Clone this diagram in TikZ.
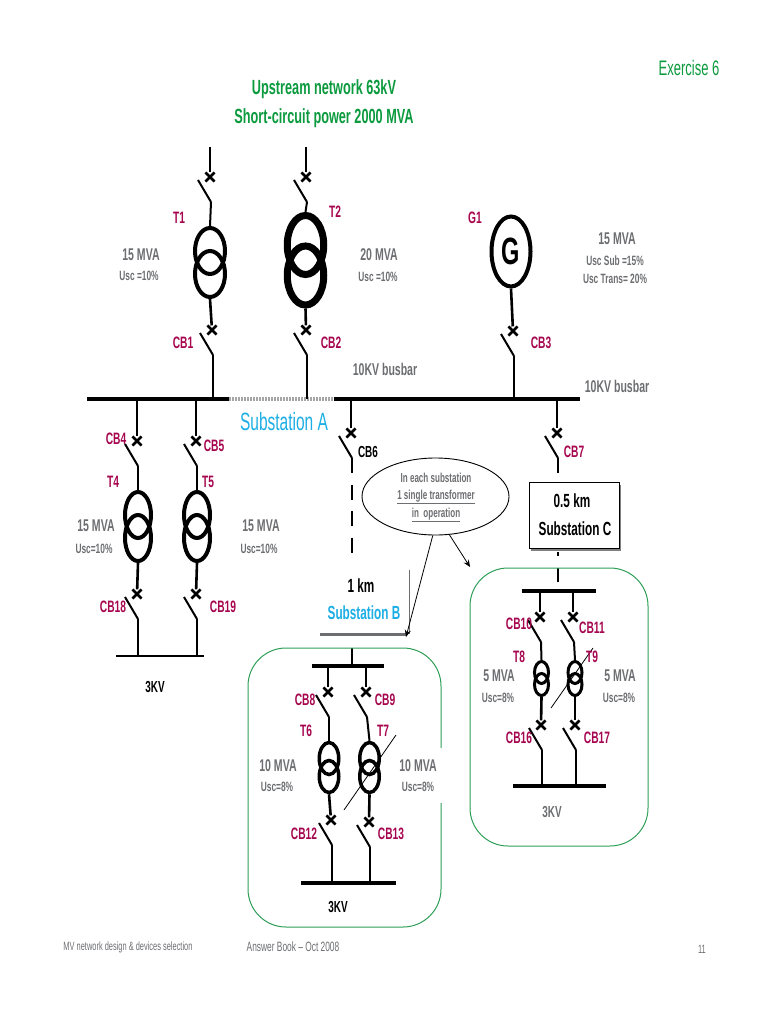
\documentclass[tikz,border=0pt]{standalone}
\usepackage{fontspec}
\usepackage{xcolor}
\usetikzlibrary{shapes.geometric,shapes.misc,shadows,arrows.meta}
\newfontfamily\nrw[FakeStretch=0.62]{Liberation Sans}
\definecolor{cbred}{HTML}{A6064F}
\definecolor{lblgray}{HTML}{6D6E71}
\definecolor{netgreen}{HTML}{0B9A3E}
\definecolor{framegreen}{HTML}{2E9E57}
\definecolor{subcyan}{HTML}{1CAEE4}
\tikzset{
	wire/.style={line width=2pt},
	wirethick/.style={line width=2.6pt},
	bar/.style={line width=3.6pt},
	cbx/.style={cross out,draw,minimum size=6.5pt,inner sep=0pt,line width=2.6pt},
	trafo/.style={ellipse,draw,inner sep=0pt},
	cblab/.style={text=cbred,font=\nrw\bfseries\fontsize{16.5}{18}\selectfont},
	mva/.style={text=lblgray,font=\nrw\bfseries\fontsize{17}{19}\selectfont},
	usc/.style={text=lblgray,font=\nrw\bfseries\fontsize{13.5}{15}\selectfont},
	blk/.style={font=\nrw\bfseries\fontsize{19}{21}\selectfont},
	kv/.style={font=\nrw\bfseries\fontsize{16}{18}\selectfont},
	foot/.style={text=lblgray,font=\nrw\fontsize{12}{14}\selectfont},
	greenbox/.style={draw=framegreen,line width=1pt},
	notearrow/.style={-{Stealth[length=7pt,width=6pt]},line width=0.8pt}
}
\begin{document}
\begin{tikzpicture}[x=1pt,y=-1pt]
	\useasboundingbox (0,0) rectangle (768,1024);
	
	% Headings
	\node[text=netgreen,font=\nrw\fontsize{21}{23}\selectfont] (exo) at (689,68) {Exercise 6};
	\node[text=netgreen,font=\nrw\bfseries\fontsize{20.5}{22}\selectfont] (title1) at (324,89.5) {Upstream network 63kV};
	\node[text=netgreen,font=\nrw\bfseries\fontsize{20.5}{22}\selectfont] (title2) at (324,118) {Short-circuit power 2000 MVA};
	
	% Draw breakers
	\foreach \n/\x/\y in {T1/210/177,T2/306/177,1/212/330,2/306/330,3/513/331,4/137/441,5/196/441,6/351/433,7/557/433,18/137/594,19/196/594,8/328/692,9/366/692,12/331/820,13/369/822,10/540/617,11/573/617,16/541/725,17/575/725}{
		\node[cbx] (CB\n) at (\x,\y) {};
		\coordinate (CB\n-s) at (\x-12,\y+3);
		\coordinate (CB\n-e) at (\x+1,\y+25);
		\draw[wire] (CB\n-s) -- (CB\n-e);
	}
	
	% Draw transformers
	\node[trafo,line width=4pt,minimum width=30pt,minimum height=46pt] (T1a) at (210,251) {};
	\node[trafo,line width=4pt,minimum width=30pt,minimum height=46pt] (T1b) at (210,274) {};
	\node[trafo,line width=7pt,minimum width=36.5pt,minimum height=59pt] (T2a) at (305.5,245) {};
	\node[trafo,line width=7pt,minimum width=36.5pt,minimum height=59pt] (T2b) at (305.5,275.5) {};
	\foreach \n/\x in {4/138,5/197}{
		\node[trafo,line width=4pt,minimum width=26pt,minimum height=46pt] (T\n a) at (\x,515) {};
		\node[trafo,line width=4pt,minimum width=26pt,minimum height=46pt] (T\n b) at (\x,538) {};
	}
	\foreach \n/\x in {6/329,7/369.5}{
		\node[trafo,line width=3.5pt,minimum width=19.5pt,minimum height=32pt] (T\n a) at (\x,758.5) {};
		\node[trafo,line width=3.5pt,minimum width=19.5pt,minimum height=32pt] (T\n b) at (\x,776.5) {};
	}
	\foreach \n/\x in {8/541.5,9/575}{
		\node[trafo,line width=3pt,minimum width=14pt,minimum height=22pt] (T\n a) at (\x,672.5) {};
		\node[trafo,line width=3pt,minimum width=14pt,minimum height=22pt] (T\n b) at (\x,684.5) {};
	}
	\node[trafo,line width=4pt,minimum width=39pt,minimum height=70pt,font=\nrw\bfseries\fontsize{38}{40}\selectfont] (G1) at (511,251.5) {G};
	
	% Draw busbars
	\coordinate (busAl) at (87,399);
	\coordinate (busAg) at (229,399);
	\coordinate (busAh) at (334,399);
	\coordinate (busAr) at (580,399);
	\draw[bar] (busAl) -- (busAg);
	\draw[bar,gray!70,dash pattern=on 2pt off 1pt] (busAg) -- (busAh);
	\draw[bar] (busAh) -- (busAr);
	\coordinate (bar3l) at (116,656);
	\coordinate (bar3r) at (204,656);
	\draw[line width=2.6pt] (bar3l) -- (bar3r);
	\coordinate (barBl) at (312,666);
	\coordinate (barBr) at (384,666);
	\draw[bar] (barBl) -- (barBr);
	\coordinate (bar3Bl) at (301,883);
	\coordinate (bar3Br) at (396,883);
	\draw[bar] (bar3Bl) -- (bar3Br);
	\coordinate (barCl) at (522,591);
	\coordinate (barCr) at (596,591);
	\draw[bar] (barCl) -- (barCr);
	\coordinate (bar3Cl) at (513,786);
	\coordinate (bar3Cr) at (606,786);
	\draw[bar] (bar3Cl) -- (bar3Cr);
	
	% Draw wires, upper network
	\coordinate (feedT1) at (210,147);
	\coordinate (feedT2) at (306,147);
	\draw[wirethick] (feedT1) -- (CBT1);
	\draw[wirethick] (feedT2) -- (CBT2);
	\draw[wire] (CBT1-e) -- (T1a.north);
	\draw[wire] (CBT2-e) -- (T2a.north);
	\draw[wirethick] (T1b.south) -- (CB1);
	\draw[wirethick] (T2b.south) -- (CB2);
	\draw[wirethick] (G1.south) -- (CB3);
	\draw[wire] (CB1-e) -- (CB1-e |- busAl);
	\draw[wire] (CB2-e) -- (CB2-e |- busAl);
	\draw[wire] (CB3-e) -- (CB3-e |- busAl);
	
	% Draw wires, 3KV feeders of substation A
	\foreach \n/\m/\t in {4/18/T4,5/19/T5}{
		\draw[wirethick] (CB\n |- busAl) -- (CB\n);
		\draw[wire] (CB\n-e) -- (\t a.north);
		\draw[wirethick] (\t b.south) -- (CB\m);
		\draw[wire] (CB\m-e) -- (CB\m-e |- bar3l);
	}
	
	% Draw wires, substation B
	\coordinate (inB) at (352,648);
	\draw[wirethick] (inB) -- (inB |- barBl);
	\foreach \n/\m/\t in {8/12/T6,9/13/T7}{
		\draw[wirethick] (CB\n |- barBl) -- (CB\n);
		\draw[wire] (CB\n-e) -- (\t a.north);
		\draw[wirethick] (\t b.south) -- (CB\m);
		\draw[wire] (CB\m-e) -- (CB\m-e |- bar3Bl);
	}
	
	% Draw wires, substation C
	\foreach \n/\m/\t in {10/16/T8,11/17/T9}{
		\draw[wirethick] (CB\n |- barCl) -- (CB\n);
		\draw[wire] (CB\n-e) -- (\t a.north);
		\draw[wirethick] (\t b.south) -- (CB\m);
		\draw[wire] (CB\m-e) -- (CB\m-e |- bar3Cl);
	}
	
	% Draw links to the substations
	\draw[wirethick] (CB6 |- busAl) -- (CB6);
	\draw[wirethick] (CB7 |- busAl) -- (CB7);
	\coordinate (linkB) at (352,555);
	\draw[wirethick,dash pattern=on 15pt off 11.5pt] (CB6-e) -- (linkB);
	\coordinate (CBox) at (558,473);
	\draw[wire] (CB7-e) -- (CBox);
	\node[draw,fill=white,line width=1pt,minimum width=90pt,minimum height=66pt,inner sep=0pt,
		drop shadow={shadow xshift=2pt,shadow yshift=-3pt,fill=gray,opacity=1}] (subC) at (574,515) {};
	\coordinate (linkC1) at (558,552);
	\coordinate (linkC2) at (558,556);
	\coordinate (linkC3) at (558,568);
	\coordinate (linkC4) at (558,582);
	\draw[wire] (linkC1) -- (linkC2);
	\draw[wire] (linkC3) -- (linkC4);
	\coordinate (markBl) at (320,634);
	\coordinate (markBr) at (407,634);
	\coordinate (markBt) at (409,570);
	\coordinate (markBb) at (409,634);
	\draw[line width=3pt,lblgray] (markBl) -- (markBr);
	\draw[line width=1pt,lblgray] (markBt) -- (markBb);
	
	% Draw substation frames, B has a gap on its right side
	\draw[greenbox,rounded corners=38pt] (441,748) -- (441,648) -- (248,648) -- (248,927) -- (441,927) -- (441,803);
	\draw[greenbox,rounded corners=38pt] (470,568) rectangle (648,846);
	
	% Draw note and its arrows
	\node[ellipse,draw,line width=0.9pt,minimum width=147pt,minimum height=77pt,inner sep=0pt] (note) at (435.5,496.5) {};
	\coordinate (noteB) at (406,637);
	\coordinate (noteC) at (470,567);
	\draw[notearrow] (note.-94) -- (noteB);
	\draw[notearrow] (note.-70) -- (noteC);
	\node[usc,font=\nrw\bfseries\fontsize{13}{15}\selectfont] (note1) at (436,478) {In each substation};
	\node[usc,font=\nrw\bfseries\fontsize{13}{15}\selectfont] (note2) at (436,497) {\underline{1 single transformer}};
	\node[usc,font=\nrw\bfseries\fontsize{13}{15}\selectfont] (note3) at (436,515) {\underline{in\ \ operation}};
	
	% Draw tap changer strokes
	\coordinate (tapBa) at (344,810);
	\coordinate (tapBb) at (396,735);
	\coordinate (tapCa) at (551,708);
	\coordinate (tapCb) at (593,648);
	\draw[line width=0.8pt] (tapBa) -- (tapBb);
	\draw[line width=0.8pt] (tapCa) -- (tapCb);
	
	% Red labels
	\foreach \t/\x/\y in {T1/179/218,T2/335/212,G1/475/218,CB1/183/343,CB2/331/343,CB3/541/343,CB4/116/439,CB5/214/446,CB7/574/452,T4/113/482,T5/208/482,CB18/113/607,CB19/223/607,CB8/305/700,CB9/385/700,T6/306/731,T7/383/731,CB12/304/834,CB13/391/834,CB10/519/624,CB11/592/628,T8/519/657,T9/592/657,CB16/519/738,CB17/597/738}{
		\node[cblab] (lab\t) at (\x,\y) {\t};
	}
	\node[kv] (labCB6) at (368,452) {CB6};
	
	% Gray ratings
	\node[mva] (mvaT1) at (141,255) {15 MVA};
	\node[usc] (uscT1) at (139,276) {Usc =10\%};
	\node[mva] (mvaT2) at (379,255) {20 MVA};
	\node[usc] (uscT2) at (378,277) {Usc =10\%};
	\node[mva] (mvaG1) at (617,239) {15 MVA};
	\node[usc] (uscG1a) at (615,261) {Usc Sub =15\%};
	\node[usc] (uscG1b) at (615,279) {Usc Trans= 20\%};
	\node[mva] (busA1) at (385,369) {10KV busbar};
	\node[mva] (busA2) at (617,386) {10KV busbar};
	\node[mva] (mvaT4) at (96,526) {15 MVA};
	\node[usc] (uscT4) at (94,549) {Usc=10\%};
	\node[mva] (mvaT5) at (261,526) {15 MVA};
	\node[usc] (uscT5) at (259,549) {Usc=10\%};
	\node[mva] (mvaT6) at (278,766) {10 MVA};
	\node[usc] (uscT6) at (277,787) {Usc=8\%};
	\node[mva] (mvaT7) at (418,766) {10 MVA};
	\node[usc] (uscT7) at (418,787) {Usc=8\%};
	\node[mva] (mvaT8) at (499,676) {5 MVA};
	\node[usc] (uscT8) at (498,698) {Usc=8\%};
	\node[mva] (mvaT9) at (620,676) {5 MVA};
	\node[usc] (uscT9) at (619,698) {Usc=8\%};
	\node[mva,font=\nrw\bfseries\fontsize{16}{18}\selectfont] (kvC) at (552,812) {3KV};
	
	% Black and cyan labels
	\node[kv] (kvA) at (155,687) {3KV};
	\node[kv] (kvB) at (338,907) {3KV};
	\node[text=subcyan,font=\nrw\fontsize{25}{27}\selectfont] (subA) at (284,422) {Substation A};
	\node[blk] (kmB) at (361,586) {1 km};
	\node[text=subcyan,font=\nrw\bfseries\fontsize{19}{21}\selectfont] (subB) at (364,613) {Substation B};
	\node[blk] (kmC) at (572,501) {0.5 km};
	\node[blk] (subCt) at (575,529) {Substation C};
	
	% Footer
	\node[foot] (foot1) at (128,947) {MV network design \& devices selection};
	\node[foot,font=\nrw\fontsize{13.5}{15}\selectfont] (foot2) at (293,947) {Answer Book – Oct 2008};
	\node[foot] (foot3) at (702,949) {11};
	
\end{tikzpicture}
\end{document}
